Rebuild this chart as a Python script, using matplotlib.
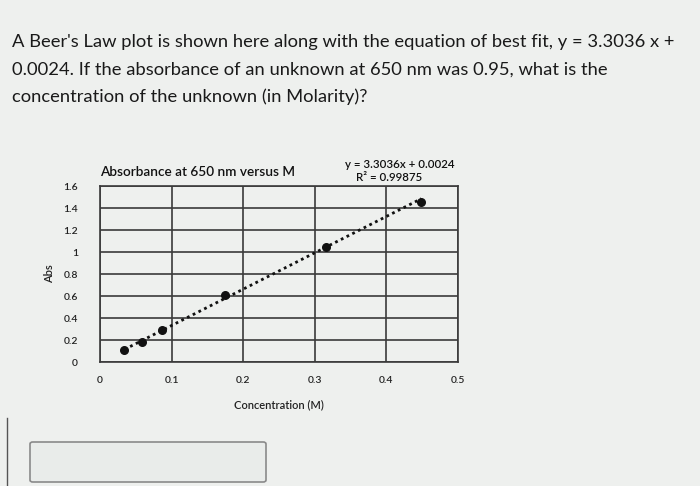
import numpy as np
import matplotlib.pyplot as plt
from matplotlib.patches import FancyBboxPatch

# Data ------------------------------------------------------------------

Conc = [0.034, 0.059, 0.087, 0.174, 0.316, 0.449]
Abs = [0.11, 0.185, 0.29, 0.61, 1.05, 1.46]

Slope = 3.3036
Intercept = 0.0024

X_Ticks = [0, 0.1, 0.2, 0.3, 0.4, 0.5]
X_Labels = ["0", "0.1", "0.2", "0.3", "0.4", "0.5"]
Y_Ticks = [0, 0.2, 0.4, 0.6, 0.8, 1.0, 1.2, 1.4, 1.6]
Y_Labels = ["0", "0.2", "0.4", "0.6", "0.8", "1", "1.2", "1.4", "1.6"]

Question = ("A Beer's Law plot is shown here along with the equation of best fit, y = 3.3036 x +\n"
            "0.0024. If the absorbance of an unknown at 650 nm was 0.95, what is the\n"
            "concentration of the unknown (in Molarity)?")

# Plotting --------------------------------------------------------------

plt.rcParams["font.family"] = ["Lato", "DejaVu Sans"]

BG = "#eef0ee"
Grid_Color = "#3a3a3a"

fig = plt.figure(figsize=(7, 4.86), dpi=100, facecolor=BG)

fig.text(0.017, 0.93, Question, fontsize=13.2, color="#1a1a1a",
         va="top", ha="left", linespacing=1.86)

ax = fig.add_axes([0.143, 0.255, 0.511, 0.362])
ax.set_facecolor(BG)

Fit_X = np.array([Conc[0], Conc[-1]])
Fit_Y = Slope * Fit_X + Intercept
ax.plot(Fit_X, Fit_Y, linestyle=(0, (1, 1.3)), color="#111111", lw=2.0, zorder=3)
ax.scatter(Conc, Abs, s=30, color="#111111", zorder=4)

ax.set_xlim(0, 0.5)
ax.set_ylim(0, 1.6)
ax.set_xticks(X_Ticks)
ax.set_xticklabels(X_Labels)
ax.set_yticks(Y_Ticks)
ax.set_yticklabels(Y_Labels)
ax.tick_params(length=0, labelsize=7.5, colors="#222222")
ax.tick_params(axis="y", pad=16)
ax.tick_params(axis="x", pad=10)
for Lbl in ax.get_xticklabels() + ax.get_yticklabels():
    Lbl.set_fontweight("semibold")

ax.grid(True, color=Grid_Color, lw=1.2)
for Side in ax.spines.values():
    Side.set_color(Grid_Color)
    Side.set_linewidth(1.2)

ax.set_xlabel("Concentration (M)", fontsize=8, color="#222222", labelpad=10,
              fontweight="semibold")
ax.set_ylabel("Abs", fontsize=8, color="#222222", labelpad=6, fontweight="semibold")

ax.text(0.0, 1.045, "Absorbance at 650 nm versus M", transform=ax.transAxes,
        fontsize=9.8, color="#111111", ha="left", va="bottom", fontweight="semibold")
ax.text(0.99, 1.09, "y = 3.3036x + 0.0024", transform=ax.transAxes,
        fontsize=8.3, color="#111111", ha="right", va="bottom", fontweight="semibold")
ax.text(0.9, 1.02, "R² = 0.99875", transform=ax.transAxes,
        fontsize=8.3, color="#111111", ha="right", va="bottom", fontweight="semibold")

# Answer box
Box = FancyBboxPatch((30 / 700, 1 - 482 / 486), 236 / 700, 40 / 486,
                     boxstyle="round,pad=0,rounding_size=0.004",
                     transform=fig.transFigure, facecolor="#e9ecea",
                     edgecolor="#8a8a8a", lw=1.2)
fig.patches.append(Box)
fig.add_artist(plt.Line2D([7 / 700, 7 / 700], [0, 0.14], color="#555555", lw=1,
                          transform=fig.transFigure))

plt.savefig("out.png", dpi=100, facecolor=BG)
